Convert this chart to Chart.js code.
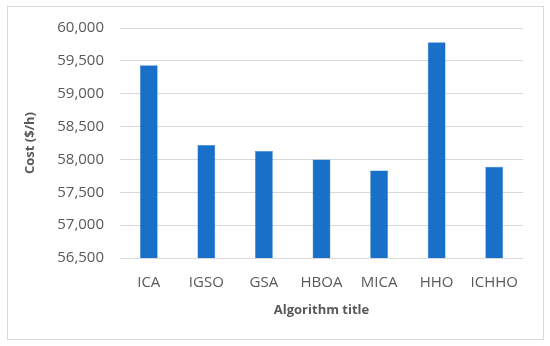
<!DOCTYPE html>
<html>
<head>
<meta charset="utf-8">
<script src="https://cdn.jsdelivr.net/npm/chart.js@4"></script>
<style>
  html,body{margin:0;padding:0;background:#fff;}
  #wrap{position:relative;width:550px;height:346px;}
  #frame{position:absolute;left:7px;top:6px;width:535px;height:332px;border:1px solid #d9d9d9;pointer-events:none;}
</style>
</head>
<body>
<div id="wrap">
  <canvas id="chart" width="550" height="346"></canvas>
  <div id="frame"></div>
</div>
<script>
// algorithm names and their cost results
const algorithms = ['ICA','IGSO','GSA','HBOA','MICA','HHO','ICHHO'];
const costs      = [59435, 58220, 58130, 58000, 57830, 59785, 57890];
const yTicks     = [56500, 57000, 57500, 58000, 58500, 59000, 59500, 60000];

const grey = '#595959';
const font = '"Open Sans", "Liberation Sans", sans-serif';

new Chart(document.getElementById('chart').getContext('2d'), {
  type: 'bar',
  data: {
    labels: algorithms,
    datasets: [{
      data: costs,
      backgroundColor: '#1870c8',
      borderColor: '#3a86d4',
      borderWidth: 0.5,
      barPercentage: 0.31,
      categoryPercentage: 1
    }]
  },
  options: {
    responsive: false,
    animation: false,
    layout: {padding: {left: 22, right: 27, top: 28, bottom: 28}},
    plugins: {legend: {display: false}, tooltip: {enabled: false}},
    scales: {
      x: {
        grid: {display: false},
        border: {display: false},
        ticks: {color: grey, font: {family: font, size: 15}, padding: 8},
        title: {display: true, text: 'Algorithm title', color: grey, font: {family: font, size: 13, weight: 'bold'}, padding: 0},
        afterFit: s => { s.height = 60; }
      },
      y: {
        min: yTicks[0],
        max: yTicks[yTicks.length - 1],
        afterBuildTicks: s => { s.ticks = yTicks.map(v => ({value: v})); },
        grid: {color: '#d9d9d9', lineWidth: 1, drawTicks: false},
        border: {display: false},
        ticks: {color: grey, font: {family: font, size: 15}, padding: 16,
                callback: v => v.toLocaleString('en-US')},
        title: {display: true, text: 'Cost ($/h)', color: grey, font: {family: font, size: 13, weight: 'bold'}, padding: 0},
        afterFit: s => { s.width = 98; }
      }
    }
  }
});
</script>
</body>
</html>
